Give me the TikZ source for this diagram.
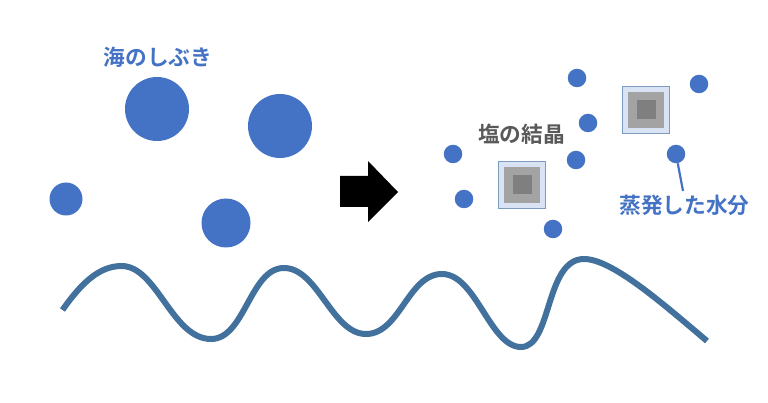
\documentclass[tikz,border=0pt]{standalone}
\usepackage{fontspec}
\newfontfamily\cjk{Noto Sans CJK JP Bold}
\definecolor{dropblue}{HTML}{4472C4}
\definecolor{wavecol}{HTML}{41719C}
\definecolor{boxfill}{HTML}{DAE3F3}
\definecolor{boxline}{HTML}{7C9DC0}
\definecolor{saltmid}{HTML}{A3A3A3}
\definecolor{saltcore}{HTML}{7F7F7F}
\definecolor{saltlabel}{HTML}{595959}
\tikzset{
  drop/.style={circle, fill=dropblue, inner sep=0pt, minimum size=#1},
  saltbox/.style={draw=boxline, line width=0.8pt, fill=boxfill, inner sep=0pt, minimum size=46.5pt},
  saltin/.style={fill=saltmid, inner sep=0pt, minimum size=36pt},
  saltcenter/.style={fill=saltcore, inner sep=0pt, minimum size=19pt},
  jlabel/.style={font=\cjk\fontsize{21.7}{21.7}\selectfont, inner sep=0pt},
}
\begin{document}
\begin{tikzpicture}[x=1pt,y=-1pt]
        \useasboundingbox (0,0) rectangle (768,403);
        % large droplets
        \node[drop=64pt] (big1) at (157,109) {};
        \node[drop=64pt] (big2) at (280,126) {};
        \node[drop=33pt] (big3) at (66,199) {};
        \node[drop=49pt] (big4) at (226,223) {};
        \node[jlabel, text=dropblue] (spray) at (158,57) {海のしぶき};
        % arrow
        \fill[black] (340,176) -- (368,176) -- (368,161) -- (398,192) -- (368,222) -- (368,207) -- (340,207) -- cycle;
        % small droplets
        \foreach \name/\px/\py in {a/577/78, b/699/84, c/588/123, d/453/154, e/576/160, f/676/154, g/464/199, h/553/229}
            \node[drop=18.5pt] (small\name) at (\px,\py) {};
        % crystals
        \foreach \name/\px/\py in {one/522/185, two/646/110} {
            \node[saltbox] (box\name) at (\px,\py) {};
            \node[saltin] (mid\name) at (\px,\py) {};
            \node[saltcenter] (core\name) at (\px,\py) {};
        }
        \node[jlabel, text=saltlabel] (salt) at (521.5,134.5) {塩の結晶};
        \node[jlabel, text=dropblue] (vapor) at (684.5,205) {蒸発した水分};
        \coordinate (vaporend) at (683,191);
        \draw[dropblue, line width=2.2pt] (smallf) -- (vaporend);
        % sea surface
        \draw[wavecol, line width=6pt] (62.5,310)
            .. controls (82,282) and (100,266) .. (121.5,266)
            .. controls (157,266) and (172,339) .. (211,339)
            .. controls (245,339) and (250,268) .. (284,268)
            .. controls (318,268) and (332,334) .. (366,334)
            .. controls (400,334) and (408,274) .. (442,274)
            .. controls (476,274) and (490,347) .. (521,347)
            .. controls (552,347) and (545,259) .. (584,259)
            .. controls (612,259) and (662,303) .. (707,341);
\end{tikzpicture}
\end{document}
